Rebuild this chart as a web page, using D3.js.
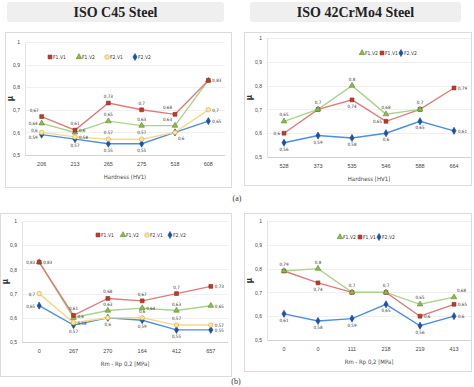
<!DOCTYPE html>
<html>
<head>
<meta charset="utf-8">
<script src="https://cdn.jsdelivr.net/npm/d3@7"></script>
<style>
  body { margin: 0; background: #fff; }
  svg { display: block; font-family: "Liberation Sans Narrow", "DejaVu Sans Condensed", "Liberation Sans", sans-serif; }
</style>
</head>
<body>
<svg id="chart"></svg>
<script>
// data
var c45HardCats  = ["206", "213", "265", "275", "518", "608"];
var c45Hard_F1V1 = [0.67, 0.61, 0.73, 0.70, 0.68, 0.83];
var c45Hard_F1V2 = [0.64, 0.60, 0.65, 0.63, 0.63, 0.83];
var c45Hard_F2V1 = [0.60, 0.58, 0.57, 0.57, 0.60, 0.70];
var c45Hard_F2V2 = [0.59, 0.57, 0.55, 0.55, 0.60, 0.65];

var crmoHardCats  = ["528", "373", "535", "546", "588", "664"];
var crmoHard_F1V2 = [0.65, 0.70, 0.80, 0.68, 0.70, null];
var crmoHard_F1V1 = [0.60, 0.70, 0.74, 0.65, 0.70, 0.79];
var crmoHard_F2V2 = [0.56, 0.59, 0.58, 0.60, 0.65, 0.61];

var c45RmCats  = ["0", "267", "270", "164", "412", "657"];
var c45Rm_F1V1 = [0.83, 0.61, 0.68, 0.67, 0.70, 0.73];
var c45Rm_F1V2 = [0.83, 0.60, 0.63, 0.64, 0.63, 0.65];
var c45Rm_F2V1 = [0.70, 0.58, 0.60, 0.60, 0.57, 0.57];
var c45Rm_F2V2 = [0.65, 0.57, 0.60, 0.59, 0.55, 0.55];

var crmoRmCats  = ["0", "0", "111", "218", "219", "413"];
var crmoRm_F1V2 = [0.79, 0.80, 0.70, 0.70, 0.65, 0.68];
var crmoRm_F1V1 = [0.79, 0.74, 0.70, 0.70, 0.60, 0.65];
var crmoRm_F2V2 = [0.61, 0.58, 0.59, 0.65, 0.56, 0.60];

var yTicks = [0.5, 0.6, 0.7, 0.8, 0.9, 1];

// series look
var look = {
  "F1,V1": {line: "#e07b7b", fill: "#c0392b", stroke: "#8e2a22", sym: d3.symbolSquare,   size: 15},
  "F1,V2": {line: "#a9d38a", fill: "#8dbb4c", stroke: "#5e8a2a", sym: d3.symbolTriangle, size: 14},
  "F2,V1": {line: "#f7d98c", fill: "#fbe89a", stroke: "#d9a53a", sym: d3.symbolCircle,   size: 16},
  "F2,V2": {line: "#4a8fe0", fill: "#1f4fa8", stroke: "#1f4fa8", sym: d3.symbolDiamond,  size: 15}
};

// label placement per point (t/b/l/r...)
var panels = [
  {
    frame: [5, 32, 232, 188], px: [25, 225], py: [155, 42],
    cats: c45HardCats, xtitle: "Hardness (HV1)", muX: 10, legendY: 57, legendX: [50, 79, 107, 135],
    series: [
      {name: "F1,V1", v: c45Hard_F1V1, pos: ["tl", "t", "t", "t", "tl", "r"]},
      {name: "F1,V2", v: c45Hard_F1V2, pos: ["l", "n", "t", "t", "tl", "n"]},
      {name: "F2,V1", v: c45Hard_F2V1, pos: ["lt", "r", "t", "t", "n", "r"]},
      {name: "F2,V2", v: c45Hard_F2V2, pos: ["lb", "b", "b", "b", "br", "r"]}
    ],
    extra: [{i: 1, v: 0.60, name: "F1,V2", pos: "rt"}]
  },
  {
    frame: [244, 32, 472, 186], px: [267, 471], py: [157, 38],
    cats: crmoHardCats, xtitle: "Hardness [HV1]", muX: 249, legendY: 53, legendX: [362, 382, 401],
    series: [
      {name: "F1,V2", v: crmoHard_F1V2, pos: ["t", "t", "t", "t", "t", "n"]},
      {name: "F1,V1", v: crmoHard_F1V1, pos: ["l", "n", "b", "l", "n", "r"]},
      {name: "F2,V2", v: crmoHard_F2V2, pos: ["b", "b", "b", "b", "b", "r"]}
    ]
  },
  {
    frame: [0, 213, 232, 377], px: [22, 228], py: [342, 221],
    cats: c45RmCats, xtitle: "Rm - Rp 0,2 [MPa]", muX: 5, legendY: 235, legendX: [98, 123, 147, 170],
    series: [
      {name: "F1,V1", v: c45Rm_F1V1, pos: ["l", "t", "t", "t", "t", "r"]},
      {name: "F1,V2", v: c45Rm_F1V2, pos: ["r", "rt", "t", "r", "t", "r"]},
      {name: "F2,V1", v: c45Rm_F2V1, pos: ["l", "r", "n", "t", "t", "r"]},
      {name: "F2,V2", v: c45Rm_F2V2, pos: ["l", "b", "b", "b", "b", "r"]}
    ]
  },
  {
    frame: [244, 213, 472, 372], px: [267, 471], py: [340, 221],
    cats: crmoRmCats, xtitle: "Rm - Rp 0,2 [MPa]", muX: 249, legendY: 237, legendX: [340, 360, 379],
    series: [
      {name: "F1,V2", v: crmoRm_F1V2, pos: ["n", "t", "t", "t", "t", "tr"]},
      {name: "F1,V1", v: crmoRm_F1V1, pos: ["t", "b", "n", "n", "r", "r"]},
      {name: "F2,V2", v: crmoRm_F2V2, pos: ["b", "b", "b", "b", "b", "r"]}
    ]
  }
];

var svg = d3.select("#chart").attr("width", 474).attr("height", 387);

var fmt = function(v){ return String(+v.toFixed(2)).replace(".", ","); };

// titles
var titles = [{t: "ISO C45 Steel", x0: 7, x1: 224}, {t: "ISO 42CrMo4 Steel", x0: 250, x1: 461}];
titles.forEach(function(t){
  svg.append("rect")
    .attr("x", t.x0).attr("y", 2).attr("width", t.x1 - t.x0).attr("height", 20)
    .attr("rx", 3).attr("fill", "#efefef");
  svg.append("text")
    .attr("x", (t.x0 + t.x1) / 2).attr("y", 17)
    .attr("text-anchor", "middle")
    .style("font-family", "'Liberation Serif', 'DejaVu Serif', serif")
    .style("font-weight", "bold").style("font-size", "14px")
    .attr("fill", "#222")
    .text(t.t);
});

svg.append("text").attr("x", 237).attr("y", 201).attr("text-anchor", "middle")
  .style("font-family", "'Liberation Serif', serif").style("font-size", "8px").attr("fill", "#333").text("(a)");
svg.append("text").attr("x", 236).attr("y", 384).attr("text-anchor", "middle")
  .style("font-family", "'Liberation Serif', serif").style("font-size", "8px").attr("fill", "#333").text("(b)");

panels.forEach(function(p){
  var g = svg.append("g");
  var f = p.frame;

  g.append("rect")
    .attr("x", f[0] + 0.5).attr("y", f[1] + 0.5)
    .attr("width", f[2] - f[0] - 1).attr("height", f[3] - f[1] - 1)
    .attr("fill", "#fff").attr("stroke", "#dcdcdc");

  var x = d3.scaleBand().domain(d3.range(p.cats.length)).range(p.px);
  var y = d3.scaleLinear().domain([0.5, 1]).range(p.py);
  var cx = function(i){ return x(i) + x.bandwidth() / 2; };

  // grid
  g.selectAll(".grid").data(yTicks).join("line")
    .attr("x1", p.px[0]).attr("x2", p.px[1])
    .attr("y1", function(d){ return Math.round(y(d)) + 0.5; })
    .attr("y2", function(d){ return Math.round(y(d)) + 0.5; })
    .attr("stroke", function(d){ return d === 0.5 ? "#c8c8c8" : "#ececec"; })
    .attr("stroke-width", 0.8);

  // y axis
  var yAxis = d3.axisLeft(y).tickValues(yTicks).tickSize(0).tickPadding(5)
    .tickFormat(function(d){ return fmt(d); });
  var ya = g.append("g").attr("transform", "translate(" + p.px[0] + ",0)").call(yAxis);
  ya.select(".domain").attr("stroke", "#e4e4e4");
  ya.selectAll("text").style("font-size", "5px").attr("fill", "#444");

  // x axis
  var xAxis = d3.axisBottom(x).tickSize(0).tickPadding(7)
    .tickFormat(function(i){ return p.cats[i]; });
  var xa = g.append("g").attr("transform", "translate(0," + p.py[0] + ")").call(xAxis);
  xa.select(".domain").remove();
  xa.selectAll("text").style("font-size", "5.5px").attr("fill", "#444");

  g.append("text")
    .attr("x", (p.px[0] + p.px[1]) / 2).attr("y", p.py[0] + 24)
    .attr("text-anchor", "middle").style("font-size", "6px").attr("fill", "#444")
    .text(p.xtitle);

  g.append("text")
    .attr("transform", "translate(" + p.muX + "," + ((p.py[0] + p.py[1]) / 2) + ") rotate(-90)")
    .attr("text-anchor", "middle").attr("dy", "0.35em")
    .style("font-size", "8px").style("font-weight", "bold").attr("fill", "#333")
    .text("μ");

  var line = d3.line()
    .defined(function(d){ return d != null; })
    .x(function(d, i){ return cx(i); })
    .y(function(d){ return y(d); });

  // lines, first series drawn on top
  p.series.slice().reverse().forEach(function(s){
    g.append("path").datum(s.v)
      .attr("d", line).attr("fill", "none")
      .attr("stroke", look[s.name].line).attr("stroke-width", 1.4);
  });

  p.series.slice().reverse().forEach(function(s){
    var L = look[s.name];
    var sym = d3.symbol().type(L.sym).size(L.size);
    g.selectAll(null).data(s.v.map(function(v, i){ return {v: v, i: i}; }).filter(function(d){ return d.v != null; }))
      .join("path")
      .attr("transform", function(d){ return "translate(" + cx(d.i) + "," + y(d.v) + ")"; })
      .attr("d", sym)
      .attr("fill", L.fill).attr("stroke", L.stroke).attr("stroke-width", 0.6);
  });

  // value labels
  var offs = {
    t:  [0, -5, "middle"], b: [0, 8, "middle"], l: [-4, 2, "end"], r: [4, 2, "start"],
    tl: [-3, -5, "end"], tr: [3, -5, "start"], br: [3, 8, "start"],
    lt: [-4, -0.5, "end"], lb: [-4, 4.5, "end"], rt: [4, 0, "start"]
  };
  function label(i, v, k){
    var o = offs[k];
    g.append("text")
      .attr("x", cx(i) + o[0]).attr("y", y(v) + o[1])
      .attr("text-anchor", o[2])
      .style("font-size", "4.5px").attr("fill", "#333")
      .text(fmt(v));
  }
  p.series.forEach(function(s){
    s.v.forEach(function(v, i){
      if (v == null || s.pos[i] === "n") return;
      label(i, v, s.pos[i]);
    });
  });
  (p.extra || []).forEach(function(e){ label(e.i, e.v, e.pos); });

  // legend
  p.series.forEach(function(s, k){
    var L = look[s.name];
    var lx = p.legendX[k];
    g.append("path")
      .attr("transform", "translate(" + lx + "," + p.legendY + ")")
      .attr("d", d3.symbol().type(L.sym).size(L.size)())
      .attr("fill", L.fill).attr("stroke", L.stroke).attr("stroke-width", 0.6);
    g.append("text")
      .attr("x", lx + 3).attr("y", p.legendY + 2)
      .style("font-size", "5px").attr("fill", "#333")
      .text(s.name);
  });
});
</script>
</body>
</html>
